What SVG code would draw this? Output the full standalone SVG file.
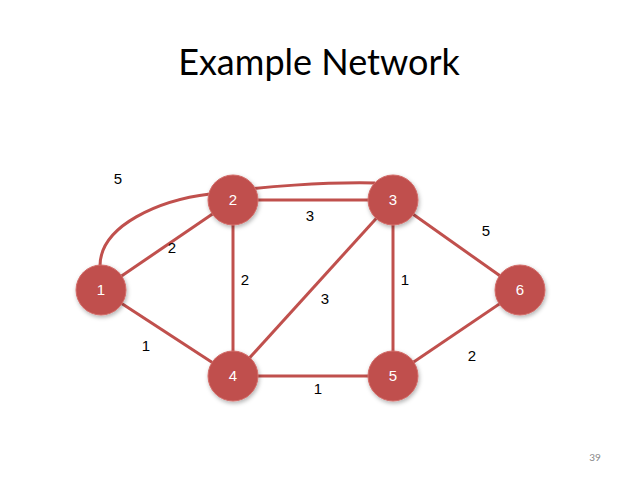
<svg xmlns="http://www.w3.org/2000/svg" width="638" height="478" viewBox="0 0 638 478">
<style>
.e{stroke:#c0504d;stroke-width:3;fill:none}
.n{fill:#c0504d;stroke:#d26b68;stroke-width:1;filter:url(#s)}
.nt{font-family:"Liberation Sans",Arial,sans-serif;font-size:15px;fill:#fff;text-anchor:middle}
.w{font-family:"Liberation Sans",Arial,sans-serif;font-size:15px;fill:#000;text-anchor:middle}
</style>
<defs><filter id="s" x="-30%" y="-30%" width="160%" height="160%"><feDropShadow dx="1" dy="2" stdDeviation="2" flood-color="#000" flood-opacity="0.3"/></filter></defs>
<rect width="638" height="478" fill="#fff"/>
<text x="319" y="75" font-family="Lato,'Open Sans',sans-serif" font-size="36" text-anchor="middle" fill="#000">Example Network</text>
<g id="edges">
<path class="e" d="M100,266 C100,225 160,200 210,194 C260,186 330,182 375,183"/>
<line class="e" x1="101" y1="290" x2="233" y2="200"/>
<line class="e" x1="101" y1="290" x2="233" y2="376"/>
<line class="e" x1="233" y1="200" x2="393" y2="200"/>
<line class="e" x1="233" y1="200" x2="233" y2="376"/>
<line class="e" x1="393" y1="200" x2="233" y2="376"/>
<line class="e" x1="393" y1="200" x2="393" y2="376"/>
<line class="e" x1="393" y1="200" x2="520" y2="290"/>
<line class="e" x1="233" y1="376" x2="393" y2="376"/>
<line class="e" x1="393" y1="376" x2="520" y2="290"/>
</g>
<g id="labels">
<text class="w" x="118" y="184">5</text>
<text class="w" x="172" y="253">2</text>
<text class="w" x="310" y="221">3</text>
<text class="w" x="245" y="285">2</text>
<text class="w" x="325" y="304">3</text>
<text class="w" x="405" y="285">1</text>
<text class="w" x="486" y="236">5</text>
<text class="w" x="146" y="351">1</text>
<text class="w" x="472" y="361">2</text>
<text class="w" x="318" y="394">1</text>
</g>
<g id="n1"><circle class="n" cx="101" cy="290" r="25"/><text class="nt" x="101" y="295">1</text></g>
<g id="n2"><circle class="n" cx="233" cy="200" r="25"/><text class="nt" x="233" y="205">2</text></g>
<g id="n3"><circle class="n" cx="393" cy="200" r="25"/><text class="nt" x="393" y="205">3</text></g>
<g id="n4"><circle class="n" cx="233" cy="376" r="25"/><text class="nt" x="233" y="381">4</text></g>
<g id="n5"><circle class="n" cx="393" cy="376" r="25"/><text class="nt" x="393" y="381">5</text></g>
<g id="n6"><circle class="n" cx="520" cy="290" r="25"/><text class="nt" x="520" y="295">6</text></g>
<text x="595" y="461" font-family="Lato,sans-serif" font-size="10" fill="#888" text-anchor="middle">39</text>
</svg>
